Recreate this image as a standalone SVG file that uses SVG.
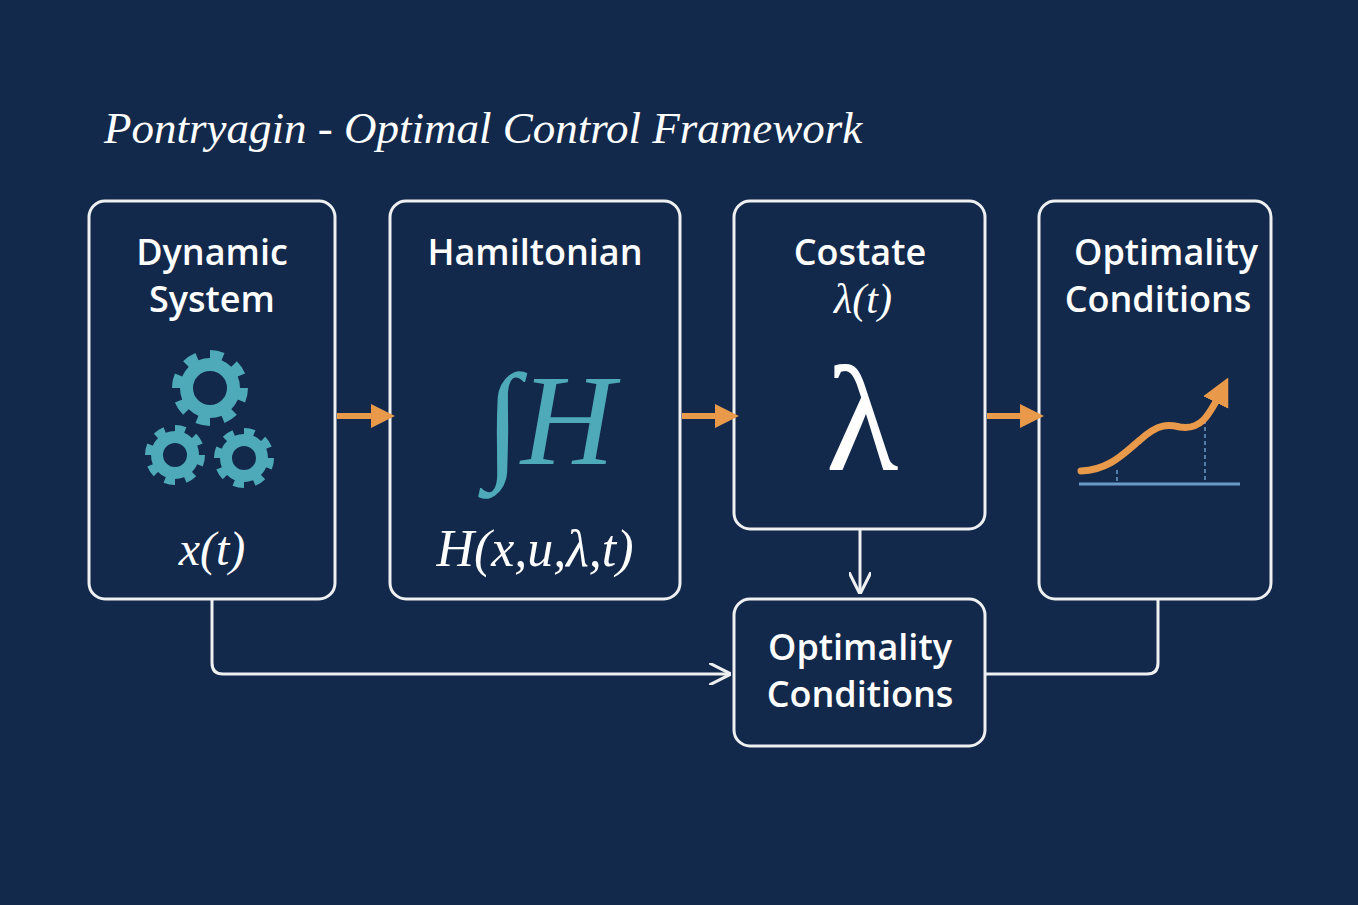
<svg xmlns="http://www.w3.org/2000/svg" width="1358" height="905" viewBox="0 0 1358 905">
<style>
.box{fill:#13294b;stroke:#eef0f2;stroke-width:3}
.lbl{font-family:"Open Sans","Liberation Sans",sans-serif;font-weight:600;font-size:36px;fill:#fff;text-anchor:middle}
.math{font-family:"Liberation Serif",serif;font-style:italic;fill:#fff;text-anchor:middle}
.teal{fill:none;stroke:#4eaab8}
.or{stroke:#e8994a;stroke-width:6;fill:none}
.wl{stroke:#eef0f2;stroke-width:3;fill:none}
</style>
<defs>
<marker id="ao" viewBox="0 0 10 10" refX="5" refY="5" markerWidth="4" markerHeight="4.4" orient="auto"><path d="M0,0 L10,5 L0,10 z" fill="#e8994a"/></marker>
<marker id="aw" viewBox="0 0 10 10" refX="9" refY="5" markerWidth="22" markerHeight="22" orient="auto" markerUnits="userSpaceOnUse"><path d="M0,0 L10,5 L0,10" fill="none" stroke="#eef0f2" stroke-width="1.4"/></marker>
</defs>
<rect width="1358" height="905" fill="#13294b"/>
<text x="104" y="143" font-family="Liberation Serif,serif" font-style="italic" font-size="45" fill="#fff">Pontryagin - Optimal Control Framework</text>
<g id="n1">
<rect class="box" x="89" y="201" width="246" height="398" rx="16"/>
<text class="lbl" x="212" y="265">Dynamic</text>
<text class="lbl" x="212" y="312">System</text>
<g class="teal">
<circle cx="210" cy="388" r="23.5" stroke-width="13"/>
<circle cx="210" cy="388" r="33" stroke-width="10" pathLength="80" stroke-dasharray="5 5"/>
<circle cx="175" cy="455" r="18" stroke-width="12"/>
<circle cx="175" cy="455" r="26" stroke-width="8" pathLength="80" stroke-dasharray="5 5"/>
<circle cx="244" cy="458" r="18" stroke-width="12"/>
<circle cx="244" cy="458" r="26" stroke-width="8" pathLength="80" stroke-dasharray="5 5"/>
</g>
<text class="math" x="212" y="565" font-size="48">x(t)</text>
</g>
<g id="n2">
<rect class="box" x="390" y="201" width="290" height="398" rx="16"/>
<text class="lbl" x="535" y="265">Hamiltonian</text>
<text x="550" y="464" font-family="Liberation Serif,serif" font-style="italic" font-size="130" fill="#4eaab8" text-anchor="middle">∫H</text>
<text class="math" x="535" y="566" font-size="52">H(x,u,λ,t)</text>
</g>
<g id="n3">
<rect class="box" x="734" y="201" width="251" height="328" rx="16"/>
<text class="lbl" x="860" y="265">Costate</text>
<text class="math" x="863" y="313" font-size="42">λ(t)</text>
<text x="862" y="470" font-family="Liberation Serif,serif" font-size="150" fill="#fff" text-anchor="middle">λ</text>
</g>
<g id="n4">
<rect class="box" x="1039" y="201" width="232" height="398" rx="16"/>
<text class="lbl" x="1166" y="265">Optimality</text>
<text class="lbl" x="1158" y="312">Conditions</text>
<line x1="1079" y1="484" x2="1240" y2="484" stroke="#6a9ac8" stroke-width="3"/>
<line x1="1117" y1="470" x2="1117" y2="482" stroke="#6a9ac8" stroke-width="1.5" stroke-dasharray="4 3"/>
<line x1="1205" y1="420" x2="1205" y2="482" stroke="#6a9ac8" stroke-width="1.5" stroke-dasharray="4 3"/>
<path d="M1081,471 C1110,470 1125,452 1140,440 C1160,422 1170,425 1180,427 C1200,430 1208,418 1222,390" stroke="#e8994a" stroke-width="7" fill="none" marker-end="url(#ao)" stroke-linecap="round"/>
</g>
<g id="n5">
<rect class="box" x="734" y="599" width="251" height="147" rx="16"/>
<text class="lbl" x="860" y="660">Optimality</text>
<text class="lbl" x="860" y="707">Conditions</text>
</g>
<g id="connectors">
<line class="or" x1="337" y1="416" x2="383" y2="416" marker-end="url(#ao)"/>
<line class="or" x1="682" y1="416" x2="727" y2="416" marker-end="url(#ao)"/>
<line class="or" x1="987" y1="416" x2="1032" y2="416" marker-end="url(#ao)"/>
<line class="wl" x1="860" y1="530" x2="860" y2="592" marker-end="url(#aw)"/>
<path class="wl" d="M212,600 V663 Q212,674 223,674 H729" marker-end="url(#aw)"/>
<path class="wl" d="M986,674 H1147 Q1158,674 1158,663 V600"/>
</g>
</svg>
